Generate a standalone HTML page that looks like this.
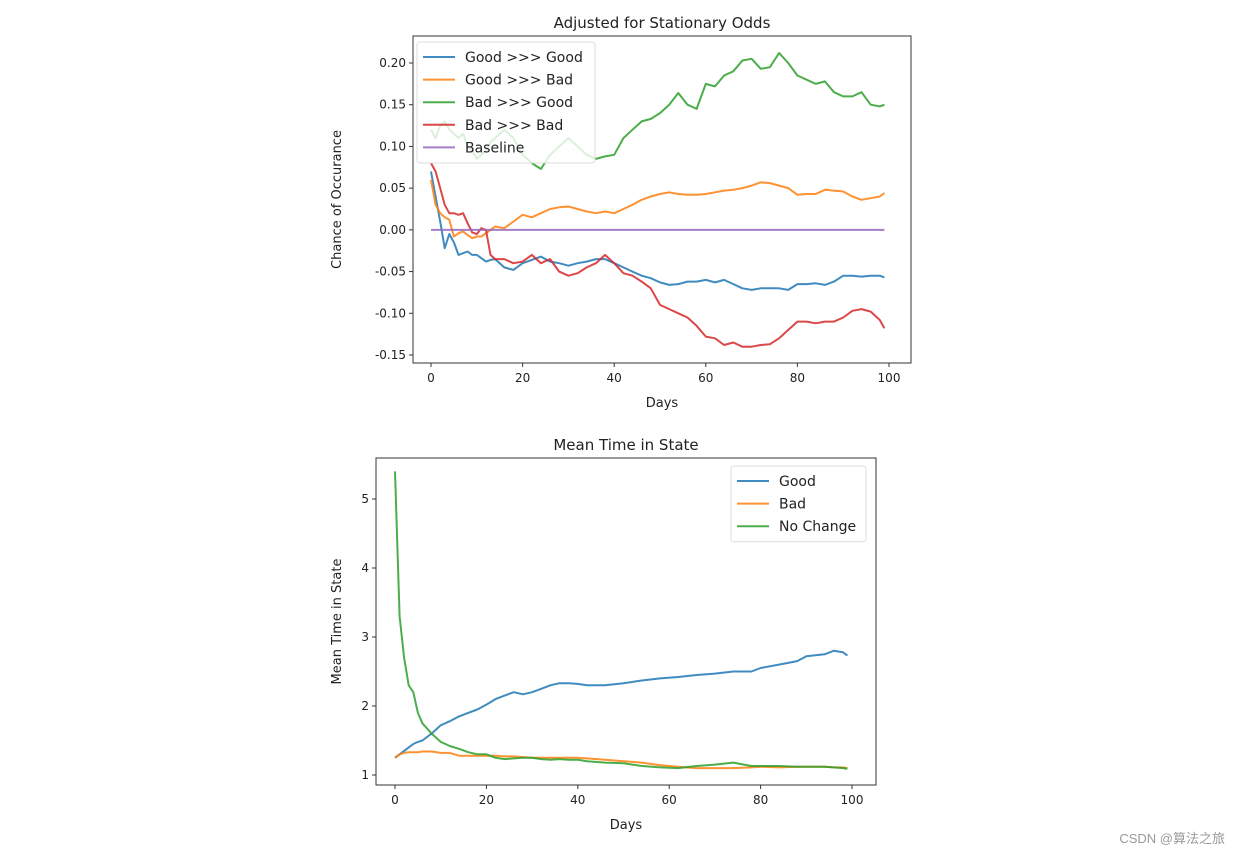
<!DOCTYPE html>
<html><head><meta charset="utf-8"><style>
body{margin:0;background:#fff;font-family:"DejaVu Sans","Liberation Sans",sans-serif;}
svg text{fill:#222;}
</style></head><body>
<svg id="c" width="1240" height="857" viewBox="0 0 1240 857" xmlns="http://www.w3.org/2000/svg">
<text x="1225" y="843" text-anchor="end" font-size="13" fill="#999" style="fill:#999" font-family="Liberation Sans,Noto Sans CJK SC,sans-serif">CSDN @算法之旅</text>
</svg>
<script>
// ---- chart 1 data ----
const t1Days=[0,1,2,3,4,5,6,7,8,9,10,11,12,13,14,16,18,20,22,24,26,28,30,32,34,36,38,40,42,44,46,48,50,52,54,56,58,60,62,64,66,68,70,72,74,76,78,80,82,84,86,88,90,92,94,96,98,99];
const ggVals=[0.07,0.04,0.01,-0.022,-0.005,-0.015,-0.03,-0.028,-0.026,-0.03,-0.03,-0.034,-0.038,-0.036,-0.035,-0.045,-0.048,-0.04,-0.036,-0.032,-0.038,-0.04,-0.043,-0.04,-0.038,-0.035,-0.035,-0.04,-0.045,-0.05,-0.055,-0.058,-0.063,-0.066,-0.065,-0.062,-0.062,-0.06,-0.063,-0.06,-0.065,-0.07,-0.072,-0.07,-0.07,-0.07,-0.072,-0.065,-0.065,-0.064,-0.066,-0.062,-0.055,-0.055,-0.056,-0.055,-0.055,-0.057];
const gbVals=[0.06,0.03,0.02,0.015,0.012,-0.008,-0.004,-0.002,-0.006,-0.01,-0.008,-0.008,-0.004,0.0,0.004,0.002,0.01,0.018,0.015,0.02,0.025,0.027,0.028,0.025,0.022,0.02,0.022,0.02,0.025,0.03,0.036,0.04,0.043,0.045,0.043,0.042,0.042,0.043,0.045,0.047,0.048,0.05,0.053,0.057,0.056,0.053,0.05,0.042,0.043,0.043,0.048,0.047,0.046,0.04,0.036,0.038,0.04,0.044];
const bgVals=[0.12,0.11,0.125,0.13,0.12,0.115,0.11,0.115,0.1,0.095,0.085,0.09,0.095,0.105,0.11,0.12,0.11,0.09,0.08,0.073,0.09,0.1,0.11,0.1,0.09,0.085,0.088,0.09,0.11,0.12,0.13,0.133,0.14,0.15,0.164,0.15,0.145,0.175,0.172,0.185,0.19,0.203,0.205,0.193,0.195,0.212,0.2,0.185,0.18,0.175,0.178,0.165,0.16,0.16,0.165,0.15,0.148,0.15];
const bbVals=[0.08,0.07,0.05,0.03,0.02,0.02,0.018,0.02,0.008,-0.003,-0.005,0.002,0.0,-0.03,-0.035,-0.035,-0.04,-0.038,-0.03,-0.04,-0.035,-0.05,-0.055,-0.052,-0.045,-0.04,-0.03,-0.04,-0.052,-0.055,-0.062,-0.07,-0.09,-0.095,-0.1,-0.105,-0.115,-0.128,-0.13,-0.138,-0.135,-0.14,-0.14,-0.138,-0.137,-0.13,-0.12,-0.11,-0.11,-0.112,-0.11,-0.11,-0.105,-0.097,-0.095,-0.098,-0.108,-0.118];
const baseVals=t1Days.map(()=>0);
const t1YTicks=[0.20,0.15,0.10,0.05,0.00,-0.05,-0.10,-0.15];
const xTicks=[0,20,40,60,80,100];
// ---- chart 2 data ----
const t2Days=[0,1,2,3,4,5,6,8,10,12,14,16,18,20,22,24,26,28,30,32,34,36,38,40,42,46,50,54,58,62,66,70,74,78,80,84,88,90,94,96,98,99];
const goodVals=[1.25,1.3,1.35,1.4,1.45,1.48,1.5,1.6,1.72,1.78,1.85,1.9,1.95,2.02,2.1,2.15,2.2,2.17,2.2,2.25,2.3,2.33,2.33,2.32,2.3,2.3,2.33,2.37,2.4,2.42,2.45,2.47,2.5,2.5,2.55,2.6,2.65,2.72,2.75,2.8,2.78,2.73];
const badVals=[1.25,1.3,1.32,1.33,1.33,1.33,1.34,1.34,1.32,1.32,1.28,1.28,1.28,1.28,1.28,1.27,1.27,1.26,1.25,1.25,1.25,1.25,1.25,1.25,1.24,1.22,1.2,1.18,1.14,1.12,1.1,1.1,1.1,1.11,1.12,1.11,1.12,1.12,1.12,1.11,1.11,1.1];
const ncVals=[5.4,3.3,2.7,2.3,2.2,1.9,1.75,1.6,1.48,1.42,1.38,1.33,1.3,1.3,1.25,1.23,1.24,1.25,1.25,1.23,1.22,1.23,1.22,1.22,1.2,1.18,1.17,1.13,1.11,1.1,1.13,1.15,1.18,1.13,1.13,1.13,1.12,1.12,1.12,1.11,1.1,1.09];
const t2YTicks=[1,2,3,4,5];

const NS="http://www.w3.org/2000/svg";
const svg=document.getElementById('c');
function mk(tag,attrs,parent){const e=document.createElementNS(NS,tag);for(const k in attrs)e.setAttribute(k,attrs[k]);(parent||svg).appendChild(e);return e;}
const cols={blue:'#1f77b4',orange:'#ff7f0e',green:'#2ca02c',red:'#d62728',purple:'#9467bd'};

function chart(cfg){
  const g=mk('g',{});
  
  
  const sx=d=>cfg.x0+(d-0)*(cfg.x100-cfg.x0)/100;
  const sy=v=>cfg.yA+(v-cfg.vA)*(cfg.yB-cfg.yA)/(cfg.vB-cfg.vA);
  cfg.series.forEach(s=>{
    const p=mk('polyline',{points:s.vals.map((v,i)=>sx(s.days[i]).toFixed(1)+','+sy(v).toFixed(1)).join(' '),fill:'none',stroke:s.col,'stroke-width':2,'stroke-opacity':0.85,'stroke-linejoin':'round'},g);
    
    
  });
  const fr=mk('rect',{x:cfg.L,y:cfg.T,width:cfg.R-cfg.L,height:cfg.B-cfg.T,fill:'none',stroke:'#333','stroke-width':1},g);
  
  
  xTicks.forEach(t=>{
    const x=sx(t);
    mk('line',{x1:x,x2:x,y1:cfg.B,y2:cfg.B+4,stroke:'#333'},g);
    const tx=mk('text',{x:x,y:cfg.B+19,'text-anchor':'middle','font-size':12},g);
    tx.textContent=t;
    
    
  });
  cfg.yTicks.forEach(t=>{
    const y=sy(t);
    mk('line',{x1:cfg.L-4,x2:cfg.L,y1:y,y2:y,stroke:'#333'},g);
    const tx=mk('text',{x:cfg.L-7,y:y+4,'text-anchor':'end','font-size':12},g);
    tx.textContent=t.toFixed(cfg.dec);
    
    
  });
  const ti=mk('text',{x:(cfg.L+cfg.R)/2,y:cfg.T-8,'text-anchor':'middle','font-size':15},g);
  ti.textContent=cfg.title;
  const xl=mk('text',{x:(cfg.L+cfg.R)/2,y:cfg.B+44,'text-anchor':'middle','font-size':13},g);
  xl.textContent='Days';
  const yx=cfg.ylX, yy=(cfg.T+cfg.B)/2;
  const yl=mk('text',{x:yx,y:yy,'text-anchor':'middle','font-size':13,transform:`rotate(-90 ${yx} ${yy})`},g);
  yl.textContent=cfg.ylabel;
  const lg=mk('g',{},g);
  
  
  mk('rect',{x:cfg.lg.x,y:cfg.lg.y,width:cfg.lg.w,height:cfg.series.length*22.6+8,fill:'#fff','fill-opacity':0.8,stroke:'#ddd',rx:3},lg);
  cfg.series.forEach((s,i)=>{
    const y=cfg.lg.y+15+i*22.6;
    mk('line',{x1:cfg.lg.x+6,x2:cfg.lg.x+38,y1:y,y2:y,stroke:s.col,'stroke-width':2,'stroke-opacity':0.85},lg);
    const t=mk('text',{x:cfg.lg.x+48,y:y+5,'font-size':14},lg);
    t.textContent=s.label;
    
    
  });
}
chart({name:'stationary-odds-chart',title:'Adjusted for Stationary Odds',ylabel:'Chance of Occurance',L:413,R:911,T:36,B:363,x0:431,x100:889,vA:0.2,yA:63,vB:-0.15,yB:355,yTicks:t1YTicks,dec:2,ylX:341,
  lg:{x:417,y:42,w:178},
  series:[{id:'good-good',label:'Good >>> Good',col:cols.blue,days:t1Days,vals:ggVals},
          {id:'good-bad',label:'Good >>> Bad',col:cols.orange,days:t1Days,vals:gbVals},
          {id:'bad-good',label:'Bad >>> Good',col:cols.green,days:t1Days,vals:bgVals},
          {id:'bad-bad',label:'Bad >>> Bad',col:cols.red,days:t1Days,vals:bbVals},
          {id:'baseline',label:'Baseline',col:cols.purple,days:t1Days,vals:baseVals}]});
chart({name:'mean-time-chart',title:'Mean Time in State',ylabel:'Mean Time in State',L:376,R:876,T:458,B:785,x0:395,x100:852,vA:1,yA:775,vB:5,yB:499,yTicks:t2YTicks,dec:0,ylX:341,
  lg:{x:731,y:466,w:135},
  series:[{id:'good',label:'Good',col:cols.blue,days:t2Days,vals:goodVals},
          {id:'bad',label:'Bad',col:cols.orange,days:t2Days,vals:badVals},
          {id:'no-change',label:'No Change',col:cols.green,days:t2Days,vals:ncVals}]});
</script>
</body></html>
